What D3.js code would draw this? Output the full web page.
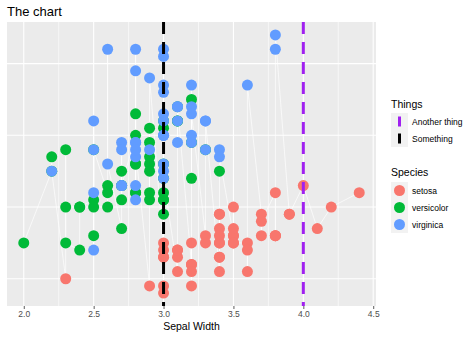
<!DOCTYPE html>
<html lang="en">
<head>
<meta charset="UTF-8">
<title>The chart</title>
<script src="https://d3js.org/d3.v7.min.js"></script>
<style>
    body { margin: 0; background: #fff; font-family: 'Liberation Sans', Arial, sans-serif; }
    svg { display: block; }
</style>
</head>
<body>
<svg id="chart" width="474" height="338"></svg>
<script>
    // iris: sepal width (x) and sepal length (y), per species, in dataset order
    const setosaWidth = [3.5,3.0,3.2,3.1,3.6,3.9,3.4,3.4,2.9,3.1,3.7,3.4,3.0,3.0,4.0,4.4,3.9,3.5,3.8,3.8,
        3.4,3.7,3.6,3.3,3.4,3.0,3.4,3.5,3.4,3.2,3.1,3.4,4.1,4.2,3.1,3.2,3.5,3.6,3.0,3.4,
        3.5,2.3,3.2,3.5,3.8,3.0,3.8,3.2,3.7,3.3];
    const setosaLength = [5.1,4.9,4.7,4.6,5.0,5.4,4.6,5.0,4.4,4.9,5.4,4.8,4.8,4.3,5.8,5.7,5.4,5.1,5.7,5.1,
        5.4,5.1,4.6,5.1,4.8,5.0,5.0,5.2,5.2,4.7,4.8,5.4,5.2,5.5,4.9,5.0,5.5,4.9,4.4,5.1,
        5.0,4.5,4.4,5.0,5.1,4.8,5.1,4.6,5.3,5.0];
    const versicolorWidth = [3.2,3.2,3.1,2.3,2.8,2.8,3.3,2.4,2.9,2.7,2.0,3.0,2.2,2.9,2.9,3.1,3.0,2.7,2.2,2.5,
        3.2,2.8,2.5,2.8,2.9,3.0,2.8,3.0,2.9,2.6,2.4,2.4,2.7,2.7,3.0,3.4,3.1,2.3,3.0,2.5,
        2.6,3.0,2.6,2.3,2.7,3.0,2.9,2.9,2.5,2.8];
    const versicolorLength = [7.0,6.4,6.9,5.5,6.5,5.7,6.3,4.9,6.6,5.2,5.0,5.9,6.0,6.1,5.6,6.7,5.6,5.8,6.2,5.6,
        5.9,6.1,6.3,6.1,6.4,6.6,6.8,6.7,6.0,5.7,5.5,5.5,5.8,6.0,5.4,6.0,6.7,6.3,5.6,5.5,
        5.5,6.1,5.8,5.0,5.6,5.7,5.7,6.2,5.1,5.7];
    const virginicaWidth = [3.3,2.7,3.0,2.9,3.0,3.0,2.5,2.9,2.5,3.6,3.2,2.7,3.0,2.5,2.8,3.2,3.0,3.8,2.6,2.2,
        3.2,2.8,2.8,2.7,3.3,3.2,2.8,3.0,2.8,3.0,2.8,3.8,2.8,2.8,2.6,3.0,3.4,3.1,3.0,3.1,
        3.1,3.1,2.7,3.2,3.3,3.0,2.5,3.0,3.4,3.0];
    const virginicaLength = [6.3,5.8,7.1,6.3,6.5,7.6,4.9,7.3,6.7,7.2,6.5,6.4,6.8,5.7,5.8,6.4,6.5,7.7,7.7,6.0,
        6.9,5.6,7.7,6.3,6.7,7.2,6.2,6.1,6.4,7.2,7.4,7.9,6.4,6.3,6.1,7.7,6.3,6.4,6.0,6.9,
        6.7,6.9,5.8,6.8,6.7,6.7,6.3,6.5,6.2,5.9];

    const speciesNames = ["setosa", "versicolor", "virginica"];
    const speciesColors = ["#F8766D", "#00BA38", "#619CFF"];

    const thingLabels = ["Another thing", "Something"];
    const thingValues = [4.0, 3.0];
    const thingColors = ["#A020F0", "#000000"];

    const xTicks = [2.0, 2.5, 3.0, 3.5, 4.0, 4.5];
    const xMinor = [2.25, 2.75, 3.25, 3.75, 4.25];
    const yGrid = [4.5, 5.5, 6.5, 7.5];

    const widths = [setosaWidth, versicolorWidth, virginicaWidth];
    const lengths = [setosaLength, versicolorLength, virginicaLength];
    const data = [];
    speciesNames.forEach((s, k) => {
        widths[k].forEach((w, i) => data.push({ x: w, y: lengths[k][i], species: s, idx: data.length }));
    });

    const panel = { left: 7, top: 22, right: 376, bottom: 306 };

    // ggplot style 5% expansion
    const xExt = d3.extent(data, d => d.x), yExt = d3.extent(data, d => d.y);
    const xPad = (xExt[1] - xExt[0]) * 0.05, yPad = (yExt[1] - yExt[0]) * 0.05;
    const x = d3.scaleLinear().domain([xExt[0] - xPad, xExt[1] + xPad]).range([panel.left, panel.right]);
    const y = d3.scaleLinear().domain([yExt[0] - yPad, yExt[1] + yPad]).range([panel.bottom, panel.top]);
    const color = d3.scaleOrdinal().domain(speciesNames).range(speciesColors);

    const svg = d3.select("#chart");

    svg.append("text")
        .attr("x", 7).attr("y", 16)
        .style("font-size", "13px").style("fill", "#000")
        .text("The chart");

    // panel background + grid
    svg.append("rect")
        .attr("x", panel.left).attr("y", panel.top)
        .attr("width", panel.right - panel.left).attr("height", panel.bottom - panel.top)
        .attr("fill", "#EBEBEB");

    const grid = svg.append("g");
    grid.selectAll(".minor").data(xMinor).enter().append("line")
        .attr("x1", d => x(d)).attr("x2", d => x(d))
        .attr("y1", panel.top).attr("y2", panel.bottom)
        .attr("stroke", "#fff").attr("stroke-width", 0.6);
    grid.selectAll(".major").data(xTicks).enter().append("line")
        .attr("x1", d => x(d)).attr("x2", d => x(d))
        .attr("y1", panel.top).attr("y2", panel.bottom)
        .attr("stroke", "#fff").attr("stroke-width", 1.1);
    grid.selectAll(".hgrid").data(yGrid).enter().append("line")
        .attr("x1", panel.left).attr("x2", panel.right)
        .attr("y1", d => y(d)).attr("y2", d => y(d))
        .attr("stroke", "#fff").attr("stroke-width", 1.1);

    // line through all points ordered by x (stable on ties)
    const sorted = data.slice().sort((a, b) => a.x - b.x || a.idx - b.idx);
    svg.append("path")
        .datum(sorted)
        .attr("d", d3.line().x(d => x(d.x)).y(d => y(d.y)))
        .attr("fill", "none")
        .attr("stroke", "#fff")
        .attr("stroke-opacity", 0.85)
        .attr("stroke-width", 0.8);

    svg.append("g").selectAll("circle").data(data).enter().append("circle")
        .attr("cx", d => x(d.x)).attr("cy", d => y(d.y))
        .attr("r", 5.5)
        .attr("fill", d => color(d.species));

    // vertical reference lines
    svg.append("g").selectAll("line").data(thingValues).enter().append("line")
        .attr("x1", d => x(d)).attr("x2", d => x(d))
        .attr("y1", panel.top).attr("y2", panel.bottom)
        .attr("stroke", (d, i) => thingColors[i])
        .attr("stroke-width", 3)
        .attr("stroke-dasharray", "12,8");

    // x axis
    const xAxis = svg.append("g")
        .attr("transform", `translate(0,${panel.bottom})`)
        .call(d3.axisBottom(x).tickValues(xTicks).tickSize(3).tickPadding(2).tickFormat(d3.format(".1f")));
    xAxis.select(".domain").remove();
    xAxis.selectAll(".tick line").attr("stroke", "#333").attr("stroke-width", 0.8);
    xAxis.selectAll(".tick text")
        .attr("fill", "#4D4D4D")
        .style("font-size", "8.5px")
        .style("font-family", "'Liberation Sans', Arial, sans-serif");

    svg.append("text")
        .attr("x", (panel.left + panel.right) / 2).attr("y", 330)
        .attr("text-anchor", "middle")
        .style("font-size", "10.5px")
        .text("Sepal Width");

    // legends
    const lx = 391, keyW = 17, keyH = 17;
    const legend = svg.append("g");

    legend.append("text").attr("x", lx).attr("y", 108).style("font-size", "10.5px").text("Things");
    thingLabels.forEach((lab, i) => {
        const ky = 113 + i * keyH;
        legend.append("rect").attr("x", lx).attr("y", ky).attr("width", keyW).attr("height", keyH).attr("fill", "#F2F2F2");
        legend.append("line")
            .attr("x1", lx + keyW / 2).attr("x2", lx + keyW / 2)
            .attr("y1", ky + keyH / 2 - 5).attr("y2", ky + keyH / 2 + 5)
            .attr("stroke", thingColors[i]).attr("stroke-width", 3);
        legend.append("text").attr("x", lx + keyW + 4).attr("y", ky + keyH / 2 + 3)
            .style("font-size", "8.5px").attr("fill", "#000").text(lab);
    });

    legend.append("text").attr("x", lx).attr("y", 176).style("font-size", "10.5px").text("Species");
    speciesNames.forEach((s, i) => {
        const ky = 182 + i * keyH;
        legend.append("rect").attr("x", lx).attr("y", ky).attr("width", keyW).attr("height", keyH).attr("fill", "#F2F2F2");
        legend.append("circle").attr("cx", lx + keyW / 2).attr("cy", ky + keyH / 2).attr("r", 5.5).attr("fill", color(s));
        legend.append("text").attr("x", lx + keyW + 4).attr("y", ky + keyH / 2 + 3)
            .style("font-size", "8.5px").attr("fill", "#000").text(s);
    });
</script>
</body>
</html>
